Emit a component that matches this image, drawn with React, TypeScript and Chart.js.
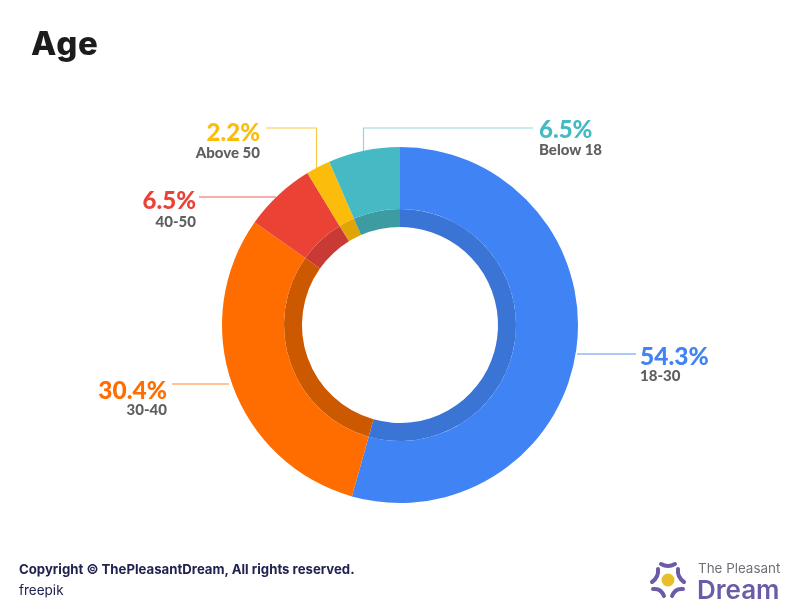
import React, { useEffect, useRef } from "react";
import { Chart, registerables } from "chart.js";

Chart.register(...registerables);

const categories = ["18-30", "30-40", "40-50", "Above 50", "Below 18"];
const shares = [54.3, 30.4, 6.5, 2.2, 6.5];
const shareLabels = ["54.3%", "30.4%", "6.5%", "2.2%", "6.5%"];
const outerColors = ["#4083F5", "#FF6D00", "#EA4335", "#FBBC0B", "#46BAC4"];
const innerColors = ["#3A75D6", "#CC5800", "#C93A35", "#E0A406", "#3C9CA2"];
const lineColors = ["#5A93F5", "#FF8A30", "#EE635A", "#FBCA45", "#9AD3D9"];

const leaderPaths: number[][][] = [
  [[577, 354], [636, 354]],
  [[172, 384], [229, 384]],
  [[199, 197], [276, 197]],
  [[266, 128], [316.5, 128], [316.5, 169]],
  [[363.5, 152], [363.5, 128], [533, 128]],
];

const labelPlacement = [
  { side: "left", x: 640, y1: 355, y2: 375 },
  { side: "right", x: 167, y1: 389, y2: 409 },
  { side: "right", x: 196, y1: 199, y2: 221 },
  { side: "right", x: 260, y1: 131, y2: 152 },
  { side: "left", x: 539, y1: 128, y2: 149 },
];

const leaderPlugin = {
  id: "leaders",
  beforeDatasetsDraw(chart: any) {
    const { ctx } = chart;
    ctx.save();
    ctx.lineWidth = 1.2;
    leaderPaths.forEach((path, i) => {
      ctx.strokeStyle = lineColors[i];
      ctx.beginPath();
      path.forEach(([x, y], j) => (j === 0 ? ctx.moveTo(x, y) : ctx.lineTo(x, y)));
      ctx.stroke();
    });
    ctx.restore();
  },
};

const box = (left: number, top: number, extra: React.CSSProperties = {}): React.CSSProperties => ({
  position: "absolute",
  left,
  top,
  transform: "translateY(-50%)",
  whiteSpace: "nowrap",
  lineHeight: 1,
  ...extra,
});

function Logo() {
  const purple = "#6C5BA7";
  const arcs = [
    "M661 564 Q668 568 675 564",
    "M658 569 Q659 577 652 582",
    "M678 569 Q677 577 684 582",
    "M653 589 Q661 588 664 596",
    "M683 589 Q675 588 672 596",
  ];
  return (
    <svg width={800} height={613} style={{ position: "absolute", left: 0, top: 0, pointerEvents: "none" }}>
      {arcs.map((d) => (
        <path key={d} d={d} fill="none" stroke={purple} strokeWidth={4} strokeLinecap="round" />
      ))}
      <circle cx={668} cy={580} r={6.5} fill="#E8BE2A" />
    </svg>
  );
}

export default function App() {
  const ref = useRef<HTMLCanvasElement>(null);
  useEffect(() => {
    const chart = new Chart(ref.current!, {
      type: "doughnut",
      data: {
        labels: categories,
        datasets: [
          { data: shares, backgroundColor: outerColors, borderWidth: 0, weight: 62 },
          { data: shares, backgroundColor: innerColors, borderWidth: 0, weight: 18 },
        ],
      } as any,
      options: {
        responsive: false,
        animation: false,
        cutout: "55.06%",
        layout: { padding: { top: 147, bottom: 110, left: 222, right: 222 } },
        plugins: { legend: { display: false }, tooltip: { enabled: false }, title: { display: false } },
      } as any,
      plugins: [leaderPlugin],
    });
    return () => chart.destroy();
  }, []);

  const labelFont = "Lato, sans-serif";
  return (
    <div style={{ position: "fixed", left: 0, top: 0, width: 800, height: 613, background: "#fff", overflow: "hidden" }}>
      <canvas ref={ref} width={800} height={613} style={{ position: "absolute", left: 0, top: 0 }} />
      <div style={box(31, 43, { font: "800 33px Inter, sans-serif", letterSpacing: 0.8, color: "#1c1c1c" })}>Age</div>
      {categories.map((c, i) => {
        const p = labelPlacement[i];
        const anchor: React.CSSProperties =
          p.side === "left" ? { left: p.x } : { left: "auto", right: 800 - p.x };
        return (
          <React.Fragment key={c + i}>
            <div style={box(0, p.y1, { ...anchor, font: `900 ${i < 2 ? 24.5 : 24}px ${labelFont}`, color: outerColors[i] })}>
              {shareLabels[i]}
            </div>
            <div style={box(0, p.y2, { ...anchor, font: `900 15px ${labelFont}`, color: "#5f5f5f" })}>{c}</div>
          </React.Fragment>
        );
      })}
      <div style={box(19, 569, { font: "700 13.2px Inter, sans-serif", color: "#20224f" })}>
        Copyright © ThePleasantDream, All rights reserved.
      </div>
      <div style={box(19, 590, { font: "400 13.5px Inter, sans-serif", color: "#20224f" })}>freepik</div>
      <Logo />
      <div style={box(698, 568, { font: "400 13.4px Inter, sans-serif", color: "#6f6f78" })}>The Pleasant</div>
      <div style={box(697, 589, { font: "600 26px Inter, sans-serif", color: "#6C5BA7" })}>Dream</div>
    </div>
  );
}
